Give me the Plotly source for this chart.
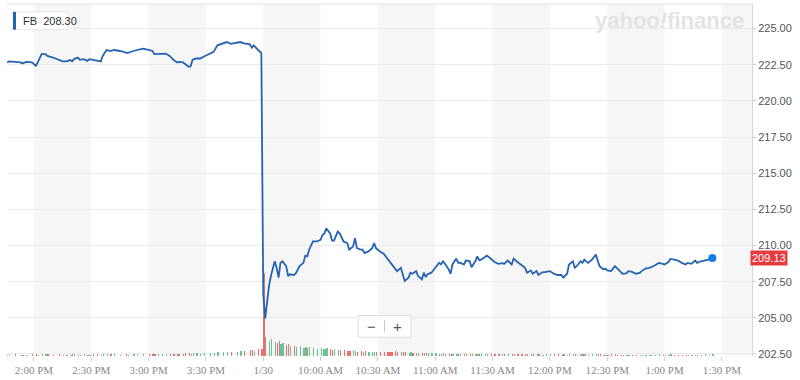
import plotly.graph_objects as go

# ---------------- data ----------------
day1 = "2020-01-29"
day2 = "2020-01-30"

d1_times = ["13:46","13:47","13:50","13:53","13:54","13:56","13:59","14:01","14:02","14:04",
            "14:06","14:07","14:10","14:13","14:15","14:17","14:19","14:20","14:21","14:23",
            "14:24","14:26","14:28","14:29","14:31","14:33","14:35","14:36","14:38","14:40",
            "14:42","14:45","14:48","14:49","14:52","14:54","14:57","15:00","15:02","15:03",
            "15:05","15:07","15:09","15:11","15:13","15:15","15:16","15:18","15:19","15:21",
            "15:22","15:23","15:25","15:27","15:29","15:32","15:34","15:36","15:39","15:41",
            "15:43","15:46","15:48","15:50","15:53","15:54","15:55","15:57","15:59"]
d1_price = [222.66,222.73,222.70,222.66,222.59,222.70,222.66,222.43,222.66,223.23,
            223.23,223.11,223.00,222.84,222.73,222.73,222.82,222.73,222.89,223.00,
            222.84,222.89,222.77,222.89,222.82,222.77,222.73,223.11,223.52,223.45,
            223.52,223.45,223.34,223.30,223.45,223.52,223.61,223.52,223.45,223.23,
            223.23,223.27,223.27,223.11,222.84,222.66,222.70,222.66,222.55,222.36,
            222.39,222.84,222.93,222.93,223.07,223.23,223.39,223.84,223.95,224.07,
            223.95,224.02,224.07,223.98,223.91,223.68,223.84,223.57,223.30]
d1_vol = [45,40,55,50,42,48,60,70,52,80,
          65,55,50,60,45,50,48,55,60,52,
          50,58,45,50,62,55,48,70,85,60,
          55,52,60,50,58,62,55,70,65,80,
          72,75,68,90,85,80,75,70,95,110,
          90,100,95,88,105,120,115,140,130,150,
          145,160,170,180,200,210,190,240,260]

d2_times = ["09:30","09:31","09:33","09:34","09:36","09:37","09:38","09:39","09:40","09:42",
            "09:43","09:44","09:46","09:47","09:49","09:51","09:52","09:53","09:54","09:56",
            "09:58","10:00","10:01","10:02","10:03","10:05","10:06","10:07","10:09","10:10",
            "10:12","10:14","10:15","10:17","10:18","10:19","10:21","10:22","10:23","10:25",
            "10:27","10:28","10:29","10:31","10:33","10:35","10:36","10:37","10:39","10:40",
            "10:42","10:43","10:44","10:46","10:47","10:48","10:50","10:51","10:53","10:54",
            "10:55","10:56","10:58","11:00","11:02","11:03","11:04","11:05","11:07","11:08",
            "11:09","11:11","11:12","11:13","11:15","11:16","11:18","11:19","11:21","11:22",
            "11:23","11:24","11:26","11:27","11:29","11:31","11:33","11:35","11:36","11:38",
            "11:40","11:41","11:43","11:45","11:47","11:48","11:50","11:51","11:53","11:54",
            "11:56","11:58","12:00","12:02","12:04","12:06","12:07","12:09","12:10","12:12",
            "12:13","12:14","12:16","12:17","12:18","12:20","12:22","12:24","12:25","12:26",
            "12:28","12:29","12:30","12:32","12:34","12:35","12:37","12:38","12:40","12:41",
            "12:43","12:45","12:47","12:48","12:50","12:52","12:53","12:55","12:57","12:59",
            "13:00","13:02","13:03","13:05","13:07","13:09","13:11","13:12","13:14","13:16",
            "13:17","13:19","13:21","13:23","13:25"]
d2_price = [206.64,204.95,207.21,207.89,208.91,208.46,207.78,208.80,208.91,208.57,
            207.89,208.01,207.96,208.07,208.57,208.80,209.30,209.25,209.71,210.28,
            210.28,210.39,210.73,210.84,211.18,210.84,210.34,210.34,210.96,210.84,
            210.28,210.16,209.71,209.94,210.50,209.82,209.71,209.71,209.48,209.59,
            209.82,210.16,209.82,209.59,209.43,209.10,208.90,208.80,208.46,208.23,
            208.46,208.05,207.55,207.78,208.12,208.05,208.23,207.89,207.66,208.12,
            207.82,208.01,208.12,208.46,208.80,208.69,208.91,208.75,208.35,208.05,
            208.69,209.10,208.80,208.82,208.69,208.96,208.93,208.50,208.93,209.25,
            208.98,209.02,209.19,209.30,209.10,208.86,208.73,208.78,208.73,208.96,
            208.69,209.10,208.86,208.69,208.46,208.12,208.28,208.05,208.23,207.96,
            208.15,208.18,208.23,208.05,207.96,207.96,207.78,208.05,208.69,208.91,
            208.46,208.57,208.91,208.80,209.02,208.80,209.02,209.37,208.91,208.57,
            208.35,208.41,208.28,208.23,208.57,208.46,208.18,208.05,208.07,208.23,
            208.18,208.05,208.10,208.23,208.41,208.46,208.50,208.64,208.80,208.73,
            208.69,208.86,209.07,209.02,208.96,208.80,208.69,208.80,208.73,208.96,
            208.80,208.91,208.96,209.02,209.13]
d2_vol = [3000,680,560,620,520,480,540,430,470,400,
          450,380,350,330,360,300,340,290,310,280,
          260,300,270,250,290,240,230,250,220,210,
          200,190,180,210,170,160,175,150,165,140,
          150,135,140,145,130,160,150,140,170,155,
          130,145,160,120,130,110,115,125,105,110,
          100,95,105,110,90,85,95,80,90,85,
          75,80,70,72,78,65,70,68,74,80,
          66,70,62,75,68,60,58,64,60,66,
          58,62,55,60,64,70,58,62,55,68,
          52,56,60,55,58,50,62,54,70,66,
          58,52,60,55,58,50,62,75,60,55,
          52,50,48,55,60,52,50,46,48,52,
          45,48,50,46,52,48,45,50,55,48,
          46,50,55,48,45,50,44,48,46,52,
          48,50,55,52,60]

tick_times = [day1 + " 14:00", day1 + " 14:30", day1 + " 15:00", day1 + " 15:30",
              day2 + " 09:30", day2 + " 10:00", day2 + " 10:30", day2 + " 11:00",
              day2 + " 11:30", day2 + " 12:00", day2 + " 12:30", day2 + " 13:00",
              day2 + " 13:30"]
tick_labels = ["2:00 PM", "2:30 PM", "3:00 PM", "3:30 PM", "1/30", "10:00 AM", "10:30 AM",
               "11:00 AM", "11:30 AM", "12:00 PM", "12:30 PM", "1:00 PM", "1:30 PM"]
price_ticks = [202.5, 205.0, 207.5, 210.0, 212.5, 215.0, 217.5, 220.0, 222.5, 225.0]

symbol = "FB"
legend_value = "208.30"

# ---------------- build ----------------
x_all = [day1 + " " + t for t in d1_times] + [day2 + " " + t for t in d2_times]
p_all = d1_price + d2_price
v_all = d1_vol + d2_vol
vol_colors = []
for i, p in enumerate(p_all):
    up = True if i == 0 else p >= p_all[i - 1]
    vol_colors.append("rgba(60,175,120,0.75)" if up else "rgba(228,80,80,0.8)")

x_start = day1 + " 13:45:54"
x_end = day2 + " 13:45:45"

LINE = "#2563b3"

fig = go.Figure()
fig.add_trace(go.Bar(x=x_all, y=v_all, width=40000, offset=0, yaxis="y",
                     marker=dict(color=vol_colors, line=dict(width=0)), hoverinfo="skip"))
fig.add_trace(go.Scatter(x=x_all, y=p_all, mode="lines", yaxis="y2",
                         line=dict(color=LINE, width=1.8), hoverinfo="skip"))
fig.add_trace(go.Scatter(x=[x_all[-1]], y=[p_all[-1]], mode="markers", yaxis="y2",
                         marker=dict(color="#0e7fe6", size=8), hoverinfo="skip"))

# plot area pixels: x 7..752, y 4..361
def px(v):
    return (v - 7) / 745.0

def py(v):
    return (361 - v) / 357.0

shapes = []
# alternating vertical bands
for i in range(0, len(tick_times), 2):
    x0 = tick_times[i]
    x1 = tick_times[i + 1] if i + 1 < len(tick_times) else x_end
    shapes.append(dict(type="rect", xref="x", yref="paper", x0=x0, x1=x1, y0=0, y1=1,
                       fillcolor="#f6f6f6", line=dict(width=0), layer="below"))
# top border
shapes.append(dict(type="line", xref="paper", yref="paper", x0=0, x1=1, y0=1, y1=1,
                   line=dict(color="#e3e3e3", width=1), layer="below"))
# legend box
shapes.append(dict(type="rect", xref="paper", yref="paper", x0=px(13), x1=px(68), y0=py(30), y1=py(12),
                   fillcolor="white", line=dict(color="#e6e6e6", width=1), layer="above"))
shapes.append(dict(type="rect", xref="paper", yref="paper", x0=px(13), x1=px(16), y0=py(30), y1=py(12),
                   fillcolor=LINE, line=dict(width=0), layer="above"))
# zoom control box
shapes.append(dict(type="rect", xref="paper", yref="paper", x0=px(358), x1=px(411), y0=py(342), y1=py(320),
                   fillcolor="white", line=dict(color="#dddddd", width=1), layer="above"))
shapes.append(dict(type="line", xref="paper", yref="paper", x0=px(384.5), x1=px(384.5), y0=py(337), y1=py(325),
                   line=dict(color="#c8c8c8", width=1), layer="above"))

annotations = [
    dict(xref="paper", yref="paper", x=px(21), y=py(21), xanchor="left", yanchor="middle",
         text=symbol + "  " + legend_value, showarrow=False,
         font=dict(family="Arial, Liberation Sans, sans-serif", size=11, color="#333333")),
    dict(xref="paper", yref="paper", x=px(746), y=py(21), xanchor="right", yanchor="middle",
         text="<b>yahoo<i>!</i>finance</b>", showarrow=False,
         font=dict(family="Arial, Liberation Sans, sans-serif", size=22, color="#e4e4e4")),
    dict(xref="paper", yref="y2", x=1, y=p_all[-1], xanchor="left", yanchor="middle", xshift=-2,
         text="%.2f" % p_all[-1], showarrow=False, bgcolor="#e63b41", borderpad=1,
         font=dict(family="Arial, Liberation Sans, sans-serif", size=11, color="white")),
    dict(xref="paper", yref="paper", x=px(371), y=py(331), xanchor="center", yanchor="middle",
         text="−", showarrow=False, font=dict(family="Arial, sans-serif", size=15, color="#555555")),
    dict(xref="paper", yref="paper", x=px(397), y=py(331), xanchor="center", yanchor="middle",
         text="+", showarrow=False, font=dict(family="Arial, sans-serif", size=15, color="#555555")),
]

fig.update_layout(
    width=800, height=380, autosize=False,
    margin=dict(l=7, r=48, t=4, b=19),
    paper_bgcolor="white", plot_bgcolor="white",
    showlegend=False, bargap=0,
    xaxis=dict(type="date", range=[x_start, x_end],
               rangebreaks=[dict(bounds=[16, 9.5], pattern="hour")],
               tickmode="array", tickvals=tick_times, ticktext=tick_labels,
               tickfont=dict(family="Liberation Serif, Times New Roman, serif", size=11, color="#888888"),
               ticks="outside", ticklen=4, tickcolor="#d0d0d0",
               showgrid=False, zeroline=False, showline=False),
    yaxis=dict(range=[0, 12750], visible=False, showgrid=False, zeroline=False),
    yaxis2=dict(overlaying="y", side="right", anchor="x", range=[202.36, 226.70],
                tickmode="array", tickvals=price_ticks, tickformat=".2f",
                tickfont=dict(family="Arial, Liberation Sans, sans-serif", size=11, color="#555555"),
                showgrid=True, gridcolor="#ebebeb", gridwidth=1,
                ticks="outside", ticklen=3, tickcolor="#cccccc",
                showline=True, linecolor="#d6d6d6", zeroline=False),
    shapes=shapes,
    annotations=annotations,
)

fig.write_html("out.html")
